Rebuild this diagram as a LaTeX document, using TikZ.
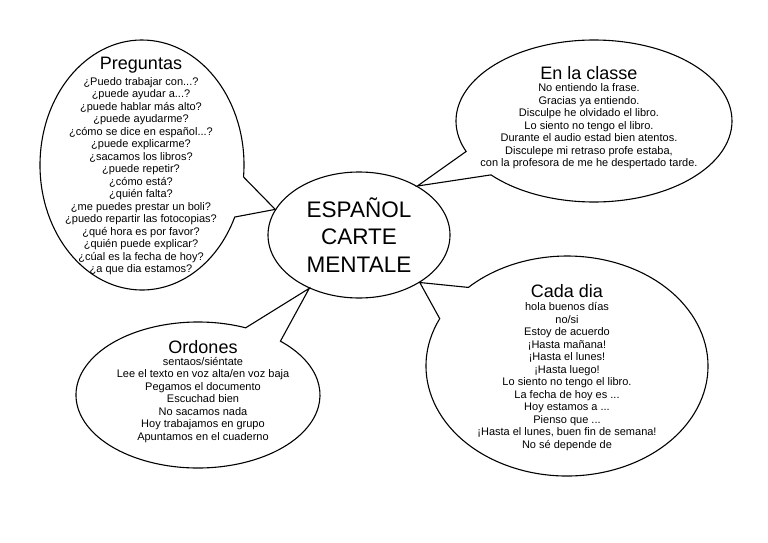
\documentclass[tikz,border=0pt]{standalone}
\usepackage{fontspec}
\setmainfont{Liberation Sans}
\usetikzlibrary{positioning,shapes.geometric}

\tikzset{
  bubble/.style={draw, line width=1.1pt, line join=miter},
  bubtitle/.style={font=\fontsize{18}{21}\selectfont, inner sep=0pt,
    text height=13pt, text depth=4pt},
  bubtext/.style={font=\fontsize{11}{12.5}\selectfont, align=center, inner sep=0pt}
}

\begin{document}
\begin{tikzpicture}[x=1pt,y=-1pt]
  \useasboundingbox (0,0) rectangle (768,543);

  % centre of the map
  \node[ellipse, draw, line width=1.1pt, inner sep=0pt,
    minimum width=182pt, minimum height=126pt, align=center,
    font=\fontsize{22.5}{27.5}\selectfont] (centre) at (359,235)
    {ESPAÑOL\\CARTE\\MENTALE};

  % bubble centres
  \coordinate (preg) at (142,165);
  \coordinate (classe) at (594,121);
  \coordinate (ordones) at (198,395);
  \coordinate (cada) at (567,366);

  % speech bubbles, tail on the centre
  \draw[bubble] (centre.163) -- ([shift={(-5.5:102pt and 125pt)}]preg)
    arc[start angle=-5.5, end angle=335.4, x radius=102pt, y radius=125pt] -- cycle;
  \draw[bubble] (centre.40) -- ([shift={(221.7:138pt and 81pt)}]classe)
    arc[start angle=221.7, end angle=562.1, x radius=138pt, y radius=81pt] -- cycle;
  \draw[bubble] (centre.227) -- ([shift={(67:122pt and 73pt)}]ordones)
    arc[start angle=67, end angle=407.5, x radius=122pt, y radius=73pt] -- cycle;
  \draw[bubble] (centre.322) -- ([shift={(154.5:141pt and 110pt)}]cada)
    arc[start angle=154.5, end angle=494.4, x radius=141pt, y radius=110pt] -- cycle;

  % Preguntas
  \node[bubtitle] (preg-title) at (141,65) {Preguntas};
  \node[bubtext, below=3.5pt of preg-title] (preg-text)
    {¿Puedo trabajar con...?\\
     ¿puede ayudar a...?\\
     ¿puede hablar más alto?\\
     ¿puede ayudarme?\\
     ¿cómo se dice en español...?\\
     ¿puede explicarme?\\
     ¿sacamos los libros?\\
     ¿puede repetir?\\
     ¿cómo está?\\
     ¿quién falta?\\
     ¿me puedes prestar un boli?\\
     ¿puedo repartir las fotocopias?\\
     ¿qué hora es por favor?\\
     ¿quién puede explicar?\\
     ¿cúal es la fecha de hoy?\\
     ¿a que dia estamos?};

  % En la classe
  \node[bubtitle] (classe-title) at (589,75) {En la classe};
  \node[bubtext, below=0pt of classe-title] (classe-text)
    {No entiendo la frase.\\
     Gracias ya entiendo.\\
     Disculpe he olvidado el libro.\\
     Lo siento no tengo el libro.\\
     Durante el audio estad bien atentos.\\
     Disculepe mi retraso profe estaba,\\
     con la profesora de me he despertado tarde.};

  % Ordones
  \node[bubtitle] (ordones-title) at (203,349) {Ordones};
  \node[bubtext, below=-1pt of ordones-title] (ordones-text)
    {sentaos/siéntate\\
     Lee el texto en voz alta/en voz baja\\
     Pegamos el documento\\
     Escuchad bien\\
     No sacamos nada\\
     Hoy trabajamos en grupo\\
     Apuntamos en el cuaderno};

  % Cada dia
  \node[bubtitle] (cada-title) at (567,293) {Cada dia};
  \node[bubtext, below=0.5pt of cada-title] (cada-text)
    {hola buenos días\\
     no/si\\
     Estoy de acuerdo\\
     ¡Hasta mañana!\\
     ¡Hasta el lunes!\\
     ¡Hasta luego!\\
     Lo siento no tengo el libro.\\
     La fecha de hoy es ...\\
     Hoy estamos a ...\\
     Pienso que ...\\
     ¡Hasta el lunes, buen fin de semana!\\
     No sé depende de};
\end{tikzpicture}
\end{document}
